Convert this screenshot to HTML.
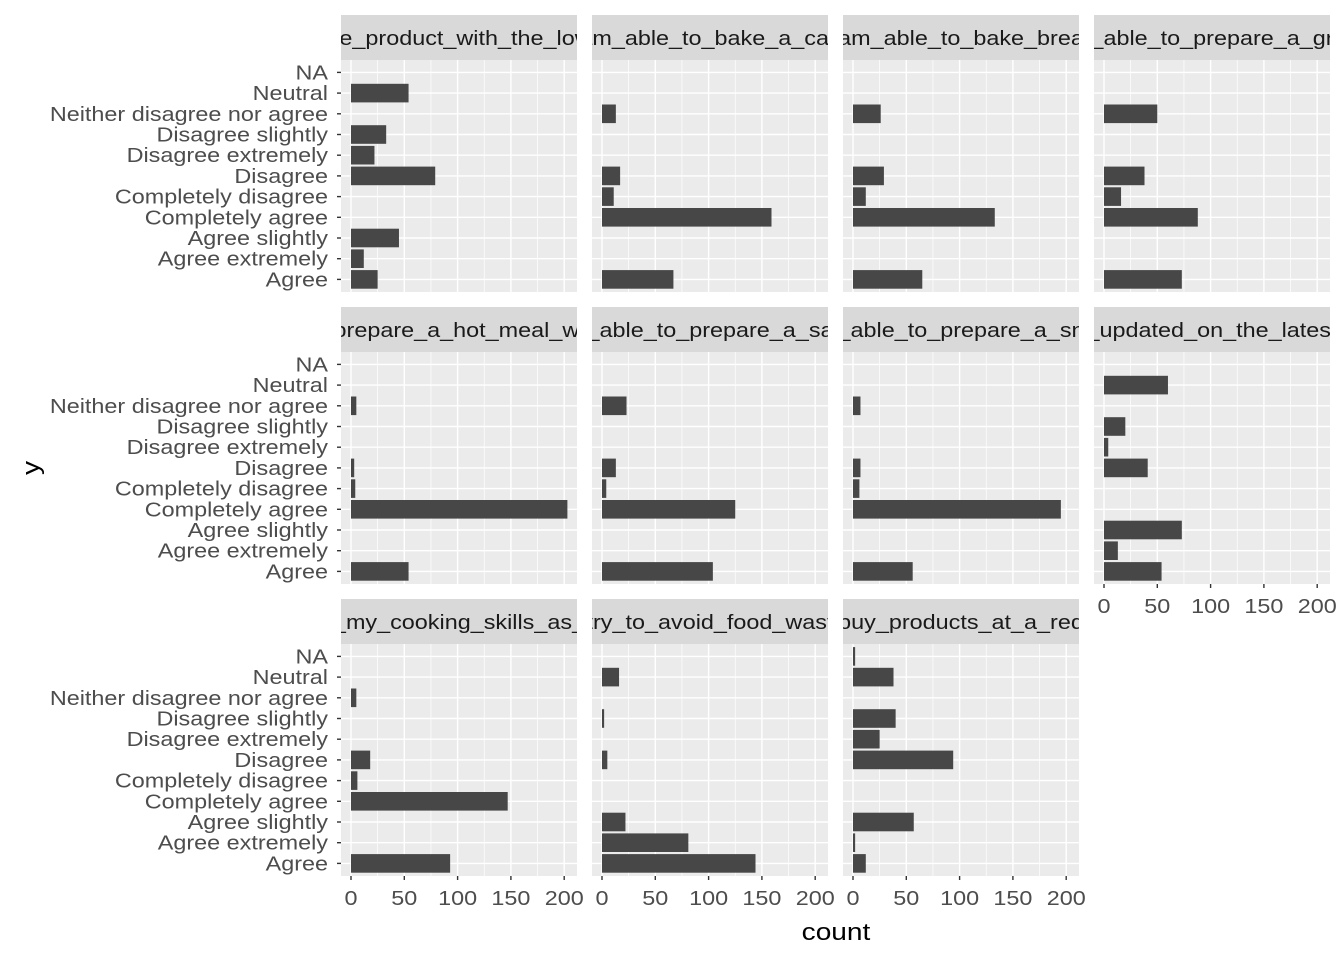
<!DOCTYPE html>
<html><head><meta charset="utf-8"><style>
body{margin:0;background:#fff;}
svg text{font-family:"Liberation Sans",Arial,sans-serif;}
</style></head><body>
<svg id="s" width="1344" height="960" xmlns="http://www.w3.org/2000/svg"></svg>
<script>
const cats=["NA","Neutral","Neither disagree nor agree","Disagree slightly","Disagree extremely","Disagree","Completely disagree","Completely agree","Agree slightly","Agree extremely","Agree"];
const cols=[341,592,843,1094], rows=[60,352,644], W=236, H=232;
const titles=[
["he_product_with_the_low","am_able_to_bake_a_cak","am_able_to_bake_brea","_able_to_prepare_a_gr"],
["prepare_a_hot_meal_wi","_able_to_prepare_a_sa","_able_to_prepare_a_sn","_updated_on_the_latest"],
["_my_cooking_skills_as_","try_to_avoid_food_wast","buy_products_at_a_red"]];
const data=[
[[0,54,0,33,22,79,0,0,45,12,25],[0,0,13,0,0,17,11,159,0,0,67],[0,0,26,0,0,29,12,133,0,0,65],[0,0,50,0,0,38,16,88,0,0,73]],
[[0,0,5,0,0,3,4,203,0,0,54],[0,0,23,0,0,13,4,125,0,0,104],[0,0,7,0,0,7,6,195,0,0,56],[0,60,0,20,4,41,0,0,73,13,54]],
[[0,0,5,0,0,18,6,147,0,0,93],[0,16,0,2,0,5,0,0,22,81,144],[2,38,0,40,25,94,0,0,57,2,12]]];
const k=1.066, S=1.17;
function T(x,y,t,fs,anc,fill){return `<text transform="translate(${x},${y}) scale(${S},1)" font-size="${fs}" fill="${fill}" text-anchor="${anc}">${t}</text>`;}
let h='';
for(let r=0;r<3;r++)for(let c=0;c<(r==2?3:4);c++){
 const x0=cols[c],y0=rows[r],z=x0+10;
 h+=`<rect x="${x0}" y="${y0-45}" width="${W}" height="45" fill="#D9D9D9"/>`;
 h+=`<svg x="${x0}" y="${y0-45}" width="${W}" height="45">${T(W/2,30,titles[r][c],20,'middle','#1A1A1A')}</svg>`;
 h+=`<rect x="${x0}" y="${y0}" width="${W}" height="${H}" fill="#EBEBEB"/>`;
 for(let v=25;v<200;v+=50)h+=`<line x1="${z+v*k}" x2="${z+v*k}" y1="${y0}" y2="${y0+H}" stroke="#fff" stroke-width="0.7"/>`;
 for(let v=0;v<=200;v+=50)h+=`<line x1="${z+v*k}" x2="${z+v*k}" y1="${y0}" y2="${y0+H}" stroke="#fff" stroke-width="1.4"/>`;
 for(let i=0;i<11;i++){const y=y0+12.4+i*20.7;h+=`<line x1="${x0}" x2="${x0+W}" y1="${y}" y2="${y}" stroke="#fff" stroke-width="1.4"/>`;}
 data[r][c].forEach((v,i)=>{if(v>0){const y=y0+12.4+i*20.7;h+=`<rect x="${z}" y="${y-9.3}" width="${v*k}" height="18.6" fill="#474747"/>`;}});
 if(c==0){cats.forEach((t,i)=>{const y=y0+12.4+i*20.7;h+=`<line x1="${x0-4}" x2="${x0}" y1="${y}" y2="${y}" stroke="#333" stroke-width="1.4"/>`+T(x0-13,y+7,t,20,'end','#4D4D4D');});}
 if(r==2||(r==1&&c==3)){for(let v=0;v<=200;v+=50){const x=z+v*k;h+=`<line x1="${x}" x2="${x}" y1="${y0+H}" y2="${y0+H+4}" stroke="#333" stroke-width="1.4"/>`+T(x,y0+H+29,v,20,'middle','#4D4D4D');}}
}
h+=T(836,940,'count',24,'middle','#000');
h+=`<text transform="translate(39,468) rotate(-90) scale(${S},1)" font-size="24" fill="#000" text-anchor="middle">y</text>`;
document.getElementById('s').innerHTML=h;
</script>
</body></html>
